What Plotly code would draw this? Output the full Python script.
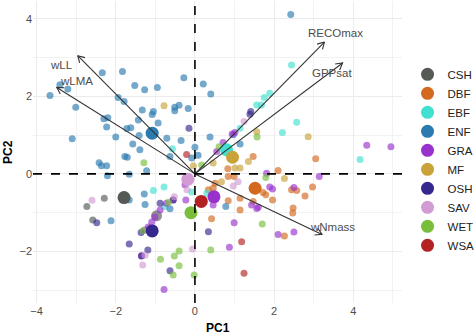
import math
import plotly.graph_objects as go

groups = ["CSH", "DBF", "EBF", "ENF", "GRA", "MF", "OSH", "SAV", "WET", "WSA"]
colors = ["#555a55", "#D2691E", "#40E0D0", "#2B7BB0", "#9932CC",
          "#C9A23A", "#34288F", "#D39BD3", "#78BE3A", "#B22222"]

CSH_pc1 = [-2.29, -2.73, -2.58, -0.97]
CSH_pc2 = [-0.63, -0.84, -1.19, -1.08]
DBF_pc1 = [1.47, 0.83, 0.84, 0.99, 0.51, 0.46, 0.34, 0.84, 1.14, 1.14, 0.42, 3.05, 2.10, 1.72,
           1.79, 2.44, 2.57, 2.97, 2.78, 1.96, 2.48, 2.47, 2.26, 1.47]
DBF_pc2 = [0.45, 0.13, -0.07, -0.07, -0.24, -0.37, -0.41, -0.69, -0.63, -0.93, -1.16, 0.39, 0.09, -0.48,
           -0.54, -0.41, -0.43, -0.34, -0.57, -0.67, -0.88, -1.01, -1.60, -0.71]
EBF_pc1 = [-0.57, -1.05, -0.78, -0.76, -0.08, 0.30, 1.56, 1.68, 1.89, 1.75, 2.44, 1.14, 2.21, 2.57, 4.17]
EBF_pc2 = [0.65, -0.43, -0.34, -0.84, -0.47, -0.50, 1.78, 1.78, 2.08, 1.97, 2.81, 1.18, 1.07, 1.33, 0.37]
ENF_pc1 = [-2.34, -1.83, -1.52, -1.27, -3.66, -3.41, -3.21, -3.01, -1.94, -1.79, -1.33, -2.30, -2.20, -1.43,
           -2.23, -1.72, -1.62, -3.10, -2.00, -1.41, -1.57, -1.39, -1.77, -1.71, -0.28, 0.21, 0.40, -0.95,
           -1.05, -1.08, -0.51, -0.40, -0.51, -0.17, -0.93, -0.35, 0.38, 0.00, 0.08, -0.08, -2.42, -2.36,
           -2.23, -2.21, -1.66, -1.22, -1.28, -1.26, -2.12, -1.66, -0.63, 0.78, -0.63, 1.14, 2.42, 0.97, -0.71]
ENF_pc2 = [2.61, 2.64, 2.28, 2.17, 2.02, 2.30, 2.19, 1.72, 1.97, 1.87, 1.65, 1.42, 1.45, 1.39,
           1.21, 1.17, 1.19, 0.91, 0.95, 0.99, 0.77, 0.62, 0.45, 0.43, 2.48, 2.32, 2.06, 2.23,
           1.61, 1.53, 1.72, 1.77, 1.63, 1.69, 1.31, 0.86, 0.95, 0.69, 0.48, 0.41, 0.29, 0.21,
           0.21, -0.05, -0.01, 0.08, -0.52, -0.79, -1.21, -0.67, -0.90, -0.84, 0.45, 0.77, 4.11, 1.01, 0.92]
GRA_pc1 = [-0.25, -0.23, 0.46, 1.43, 1.56, 0.99, 0.87, 2.10, 2.50, 1.60, 1.81, 3.14, 1.89, 1.96, 2.50,
           4.34, 4.95, 1.01, 0.94, 0.71, -0.78, -1.35, -0.55, -0.72, -0.88, -1.01, -1.09, -1.18, -1.26, 0.55]
GRA_pc2 = [-0.28, -0.67, -0.80, -0.80, -0.89, -1.26, -1.89, -1.56, -1.50, -0.86, 0.02, -0.07, -0.34, -0.39, -0.35,
           0.74, 0.70, 1.07, 1.03, 0.81, -2.98, -2.11, -0.67, -0.76, -0.93, -1.11, -1.24, -1.37, -1.45, 0.58]
MF_pc1 = [-0.78, -0.04, 0.46, 1.35, 1.14, 1.56, 2.86, 2.26, 1.01, 0.67]
MF_pc2 = [1.76, 0.21, 0.28, 0.32, 0.15, 1.09, 0.96, -0.12, 0.15, -0.20]
OSH_pc1 = [-0.15, 1.41, 1.39, -0.88, -2.48, -1.66, -1.36, -1.35, -1.19, 0.34, -0.63, -0.55]
OSH_pc2 = [1.18, 1.61, 1.54, -0.76, -1.26, -1.81, -1.51, -2.12, -1.96, -1.49, -2.50, -0.67]
SAV_pc1 = [-2.60, -1.32, -1.26, 1.24, 0.97, 1.09, -0.06, -0.52, -0.20]
SAV_pc2 = [-0.68, -2.35, -2.10, 1.35, -0.31, -0.20, -1.94, -0.59, -0.41]
WET_pc1 = [-1.29, 0.17, 1.57, 1.79, 1.70, 0.40, -0.40, -0.52, -0.87, -0.40, -0.55, -0.02, -1.31, 0.61, -0.67]
WET_pc2 = [0.29, 0.23, 0.95, -0.09, -1.29, -1.96, -1.99, -2.12, -2.20, -2.37, -2.61, -2.61, -1.46, 0.70, -0.73]
WSA_pc1 = [-0.21, 1.18, 1.24]
WSA_pc2 = [0.50, -1.75, -2.56]

centroid_pc1 = [-1.79, 1.52, 0.80, -1.08, 0.48, 0.95, -1.08, -0.18, -0.10, 0.16]
centroid_pc2 = [-0.61, -0.37, 0.62, 1.05, -0.59, 0.43, -1.47, -0.14, -1.00, -0.71]

loading_names = ["wLL", "wLMA", "RECOmax", "GPPsat", "wNmass"]
loading_pc1 = [-2.96, -3.49, 3.27, 3.73, 3.21]
loading_pc2 = [3.05, 2.23, 3.40, 2.86, -1.56]
label_pc1 = [-3.36, -2.98, 3.56, 3.46, 3.48]
label_pc2 = [2.81, 2.40, 3.64, 2.61, -1.37]

points = {
    "CSH": (CSH_pc1, CSH_pc2), "DBF": (DBF_pc1, DBF_pc2), "EBF": (EBF_pc1, EBF_pc2),
    "ENF": (ENF_pc1, ENF_pc2), "GRA": (GRA_pc1, GRA_pc2), "MF": (MF_pc1, MF_pc2),
    "OSH": (OSH_pc1, OSH_pc2), "SAV": (SAV_pc1, SAV_pc2), "WET": (WET_pc1, WET_pc2),
    "WSA": (WSA_pc1, WSA_pc2),
}

W, H = 474, 334
ML, MR, MT, MB = 33, 72, 1, 31
xr = [-4.09, 5.23]
yr = [-3.33, 4.46]
sx = (W - ML - MR) / (xr[1] - xr[0])
sy = (H - MT - MB) / (yr[1] - yr[0])
FONT = "Liberation Sans, Arial"

fig = go.Figure()

for g, c in zip(groups, colors):
    xs, ys = points[g]
    sizes = [7] * len(xs)
    if g == "CSH":
        sizes[-1] = 11
    fig.add_trace(go.Scatter(x=xs, y=ys, mode="markers", showlegend=False,
                             marker=dict(color=c, size=sizes, opacity=0.65, line=dict(width=0))))

for i, (g, c) in enumerate(zip(groups, colors)):
    fig.add_trace(go.Scatter(x=[centroid_pc1[i]], y=[centroid_pc2[i]], mode="markers", name=g,
                             marker=dict(color=c, size=13, line=dict(width=0))))

# arrows
for i in range(len(loading_names)):
    x1, y1 = loading_pc1[i], loading_pc2[i]
    fig.add_trace(go.Scatter(x=[0, x1], y=[0, y1], mode="lines", showlegend=False,
                             line=dict(color="#333333", width=1.1), hoverinfo="skip"))
    dx, dy = x1 * sx, y1 * sy
    L = math.hypot(dx, dy)
    ux, uy = dx / L, dy / L
    hl = 7.5
    wx, wy = [], []
    for ang in (math.radians(30), -math.radians(30)):
        rx = -(ux * math.cos(ang) - uy * math.sin(ang))
        ry = -(ux * math.sin(ang) + uy * math.cos(ang))
        wx.append(x1 + rx * hl / sx)
        wy.append(y1 + ry * hl / sy)
    fig.add_trace(go.Scatter(x=[wx[0], x1, wx[1]], y=[wy[0], y1, wy[1]], mode="lines",
                             showlegend=False, line=dict(color="#333333", width=1.1),
                             hoverinfo="skip"))
    fig.add_annotation(x=label_pc1[i], y=label_pc2[i], text=loading_names[i], showarrow=False,
                       font=dict(size=11.5, color="#4d4d4d", family=FONT))

fig.add_shape(type="line", xref="x", yref="paper", x0=0, x1=0, y0=0, y1=1,
              line=dict(color="black", width=1.6, dash="dash"), layer="above")
fig.add_shape(type="line", xref="paper", yref="y", x0=0, x1=1, y0=0, y1=0,
              line=dict(color="black", width=1.6, dash="dash"), layer="above")

fig.add_annotation(xref="paper", yref="paper", x=0.5, y=0, yanchor="top", yshift=-16,
                   text="<b>PC1</b>", showarrow=False,
                   font=dict(size=12, color="black", family=FONT))
fig.add_annotation(xref="paper", yref="paper", x=0, y=0.5, xanchor="center", xshift=-25,
                   text="<b>PC2</b>", showarrow=False, textangle=-90,
                   font=dict(size=12, color="black", family=FONT))

axis_common = dict(showline=False, zeroline=False, ticks="", automargin=False,
                   gridcolor="#EBEBEB", gridwidth=1,
                   tickfont=dict(size=11, color="#4d4d4d", family=FONT),
                   minor=dict(showgrid=True, gridcolor="#F2F2F2", gridwidth=0.6, dtick=1))
fig.update_xaxes(range=xr, dtick=2, tick0=0, **axis_common)
fig.update_yaxes(range=yr, dtick=2, tick0=0, **axis_common)

fig.update_layout(
    width=W, height=H,
    margin=dict(l=ML, r=MR, t=MT, b=MB, autoexpand=False),
    plot_bgcolor="white", paper_bgcolor="white",
    font=dict(family=FONT, size=11, color="#333333"),
    legend=dict(x=1.015, xanchor="left", y=0.474, yanchor="middle",
                font=dict(size=11.5, color="#222222"), itemsizing="trace",
                bgcolor="rgba(0,0,0,0)"),
)

fig.write_html("out.html")
